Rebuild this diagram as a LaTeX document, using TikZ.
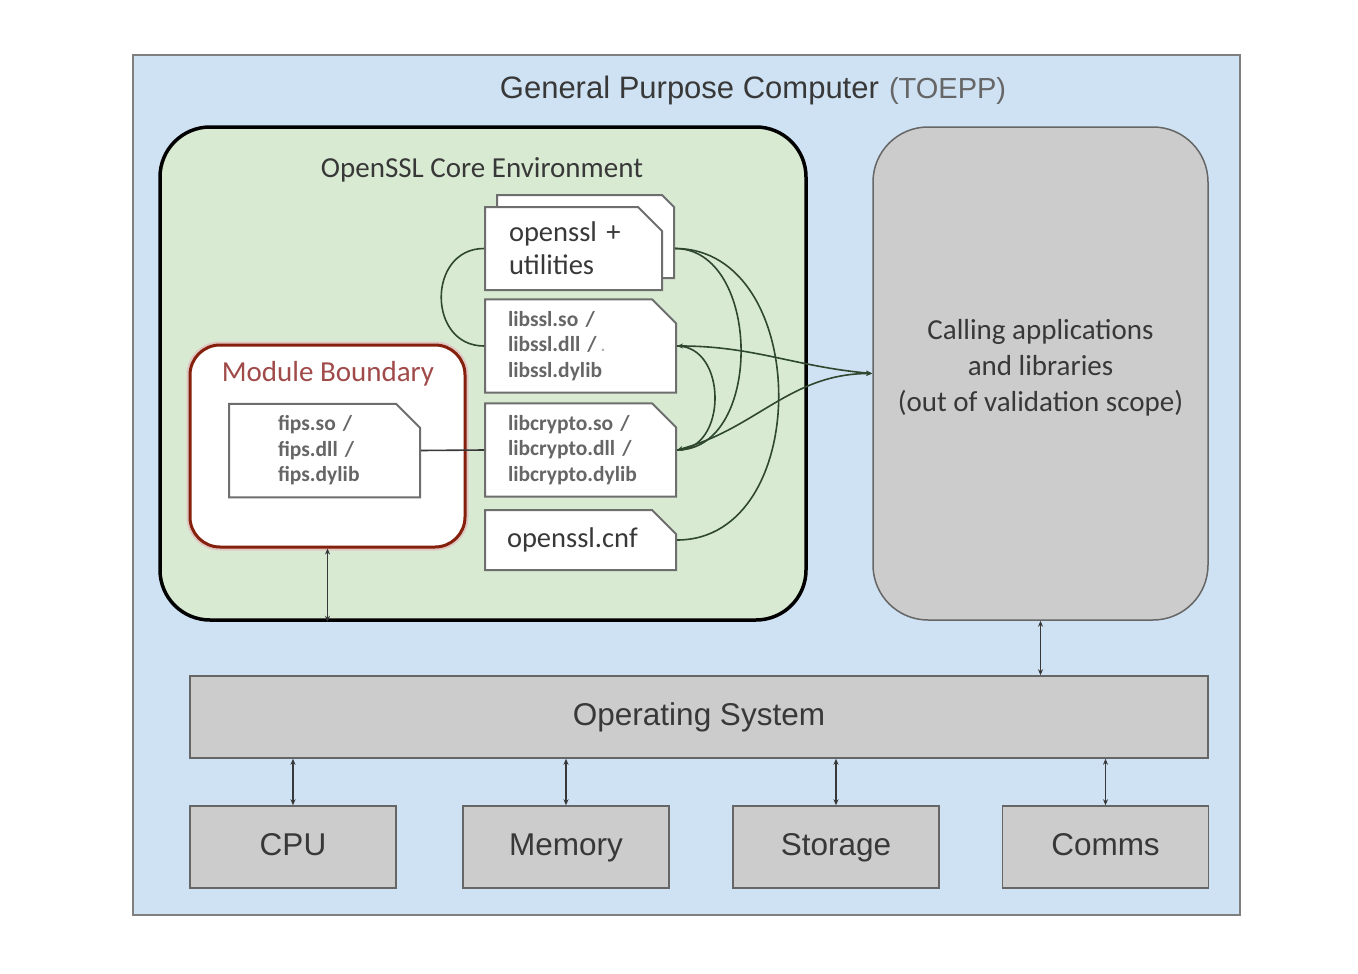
\documentclass[tikz,border=0pt]{standalone}
\usepackage{fontspec}
\setmainfont{Carlito}
\newfontfamily\arialfont{Liberation Sans}
\usetikzlibrary{arrows.meta,shapes.misc}
\definecolor{TOEPPBlue}{HTML}{CFE2F3}
\definecolor{TOEPPFrame}{HTML}{7F7F7F}
\definecolor{CoreGreen}{HTML}{D9EAD3}
\definecolor{AppGray}{HTML}{CCCCCC}
\definecolor{AppBorder}{HTML}{666666}
\definecolor{ModRed}{HTML}{85200C}
\definecolor{ModText}{HTML}{A04A4A}
\definecolor{DocGray}{HTML}{6E6E6E}
\definecolor{DocText}{HTML}{666666}
\definecolor{DarkText}{HTML}{383838}
\definecolor{LinkGreen}{HTML}{2E472E}

\begin{document}
\begin{tikzpicture}[x=1pt,y=-1pt,
  frame/.style={draw=TOEPPFrame,fill=TOEPPBlue,line width=2pt,minimum width=1107,minimum height=860},
  coreframe/.style={draw=black,fill=CoreGreen,line width=3.5pt,rounded corners=50pt,minimum width=646,minimum height=493},
  appframe/.style={draw=AppBorder,fill=AppGray,line width=1.5pt,rounded corners=55pt,minimum width=335,minimum height=493},
  modframe/.style={draw=ModRed,fill=white,line width=3pt,rounded corners=30pt,minimum width=275,minimum height=202,
    preaction={draw=ModRed!25,line width=7pt}},
  docbox/.style={chamfered rectangle,chamfered rectangle corners=north east,chamfered rectangle sep=12pt,
    draw=DocGray,fill=white,line width=2pt,inner sep=0pt,align=left,minimum width=191},
  smalldoc/.style={docbox,text=DocText,font=\bfseries\fontsize{21.5}{25.5}\selectfont,minimum height=83,text width=145},
  bigdoc/.style={docbox,text=DarkText,font=\fontsize{28.5}{33}\selectfont,text width=145},
  hwbox/.style={draw=AppBorder,fill=AppGray,line width=1.5pt,minimum width=206,minimum height=82,
    text height=23,text depth=6,text=DarkText,font=\arialfont\fontsize{31.5}{36}\selectfont},
  biarrow/.style={{Stealth[length=6pt,width=5pt]}-{Stealth[length=6pt,width=5pt]},line width=1.2pt,draw=DarkText},
  link/.style={draw=LinkGreen,line width=1.6pt}]
  \useasboundingbox (0,0) rectangle (1358,974);
  \fill[white] (0,0) rectangle (1358,974);

  % containers
  \node[frame] (gpc) at (686.5,485) {};
  \node[text=DarkText,font=\arialfont\fontsize{31}{36}\selectfont] (gpctitle) at (753,90)
    {General Purpose Computer\hspace{10pt}{\fontsize{29}{36}\selectfont\textcolor{DocText}{(TOEPP)}}};
  \node[coreframe] (core) at (483,373.5) {};
  \node[text=DarkText,font=\fontsize{29}{34}\selectfont] (coretitle) at (482,170) {OpenSSL Core Environment};
  \node[appframe] (apps) at (1040.5,373.5) {};
  \node[align=center,text=DarkText,font=\fontsize{29}{36}\selectfont] (appstext) at (1040.5,368)
    {Calling applications\\and libraries\\(out of validation scope)};
  \node[modframe] (modb) at (327.5,446) {};
  \node[text=ModText,font=\fontsize{29}{34}\selectfont] (modtitle) at (328,374) {Module Boundary};

  % files
  \node[bigdoc,minimum width=177,minimum height=83,text width=129] (utilback) at (585.5,236.5) {};
  \node[bigdoc,minimum width=177,minimum height=83,text width=129] (util) at (573.5,248.5) {openssl +\\utilities};
  \node[smalldoc] (ssl) at (580.5,346) {libssl.so /\\libssl.dll /\,{\color{DocText!50}\mdseries.}\\libssl.dylib};
  \node[smalldoc,minimum height=84] (crypto) at (580.5,450) {libcrypto.so /\\libcrypto.dll /\\libcrypto.dylib};
  \node[bigdoc,minimum height=60,text width=147] (cnf) at (580.5,540) {openssl.cnf};
  \node[smalldoc,text width=93] (fips) at (324.5,450.5) {fips.so /\\fips.dll /\\fips.dylib};

  \coordinate (utilout) at (util.east -| utilback.east);
  \draw[link] (util.west) to[out=180,in=180,looseness=1.5] (ssl.west);
  \draw[link] (utilout) to[out=0,in=0,looseness=1.1] (crypto.east);
  \draw[link] (utilout) to[out=0,in=0,looseness=1.2] (cnf.east);
  \draw[link] (ssl.east) to[out=0,in=0,looseness=1.25] (crypto.east);
  \draw[link,{Stealth[length=6pt,width=5pt]}-{Stealth[length=6pt,width=5pt]}] (ssl.east) to[out=0,in=175] (apps.west);
  \draw[link,{Stealth[length=6pt,width=5pt]}-{Stealth[length=6pt,width=5pt]}] (crypto.east) to[out=15,in=180] (apps.west);
  \draw[link,draw=DarkText] (fips.east) -- (crypto.west);
  \draw[biarrow] (modb.south) -- (modb.south |- core.south);

  % platform
  \node[hwbox,minimum width=1018] (os) at (699,717) {Operating System};
  \draw[biarrow] (apps.south) -- (apps.south |- os.north);
  \foreach \hw/\x/\txt in {cpu/293/CPU,mem/566/Memory,sto/836/Storage,com/1105.5/Comms}{
    \node[hwbox] (\hw) at (\x,847) {\txt};
    \draw[biarrow] (\hw.north) -- (\hw.north |- os.south);
  }
\end{tikzpicture}
\end{document}
